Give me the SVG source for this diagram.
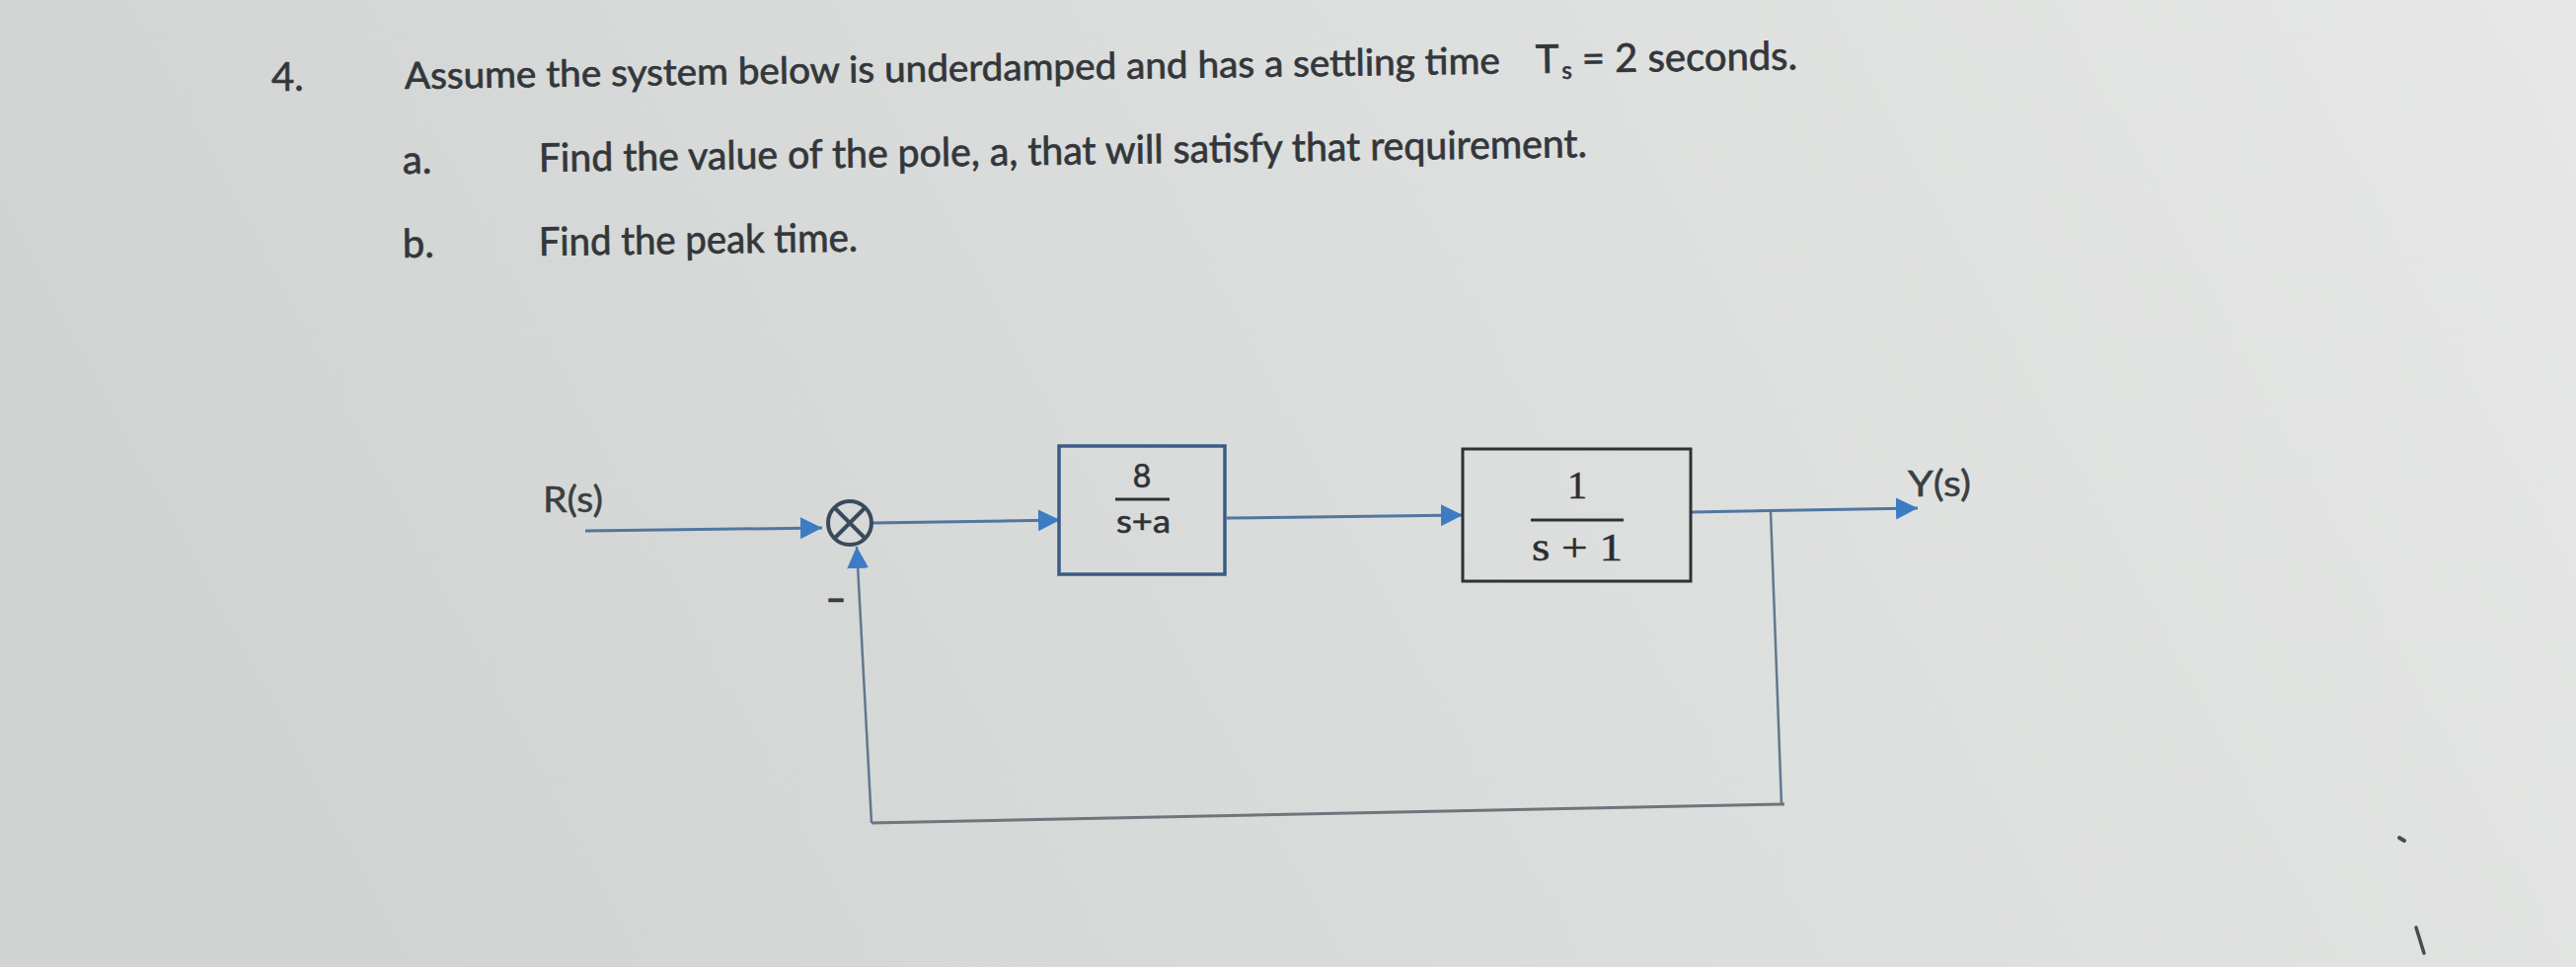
<svg xmlns="http://www.w3.org/2000/svg" width="2610" height="980" viewBox="0 0 2610 980">
  <style>
    .q { font-family: Lato, "Open Sans", "Liberation Sans", sans-serif; font-size: 40px; fill: #33373b; stroke: #33373b; stroke-width: 0.7px; }
    .lbl { font-family: Lato, "Open Sans", "Liberation Sans", sans-serif; font-size: 37px; fill: #3a3e43; stroke: #3a3e43; stroke-width: 0.5px; }
    .tf { font-family: Lato, "Open Sans", "Liberation Sans", sans-serif; font-size: 32px; fill: #2f3236; stroke: #2f3236; stroke-width: 0.6px; }
    .tm { font-family: "Liberation Serif", "DejaVu Serif", serif; font-size: 40px; fill: #2b2d30; stroke: #2b2d30; stroke-width: 0.5px; }
    .conn { fill: none; stroke: #52769f; stroke-width: 3; }
    .fb { fill: none; stroke: #60788f; stroke-width: 2.5; }
    .frac { stroke: #303235; stroke-width: 3; }
  </style>
  <defs>
    <linearGradient id="bg" x1="0" y1="0.2" x2="1" y2="0">
      <stop offset="0" stop-color="#d1d4d2"/>
      <stop offset="0.5" stop-color="#dbdedc"/>
      <stop offset="1" stop-color="#e6e7e6"/>
    </linearGradient>
    <marker id="arr" markerUnits="userSpaceOnUse" markerWidth="24" markerHeight="24" refX="22" refY="11" orient="auto" viewBox="0 0 24 24">
      <path d="M0,0 L22,11 L0,22 Z" fill="#3d7cc4"/>
    </marker>
  </defs>

  <rect x="0" y="0" width="2610" height="980" fill="url(#bg)"/>

  <g id="question">
    <text class="q" x="275" y="92">4.</text>
    <g transform="rotate(-0.8 410 90)">
      <text class="q" x="410" y="90" style="font-size:37.5px" textLength="1110" lengthAdjust="spacingAndGlyphs">Assume the system below is underdamped and has a settling time</text>
      <text class="q" x="1556" y="90">T<tspan dx="3" dy="6" style="font-size:24px">s</tspan><tspan dx="10" dy="-6">= 2 seconds.</tspan></text>
    </g>
    <g transform="rotate(-0.8 408 176)">
      <text class="q" x="408" y="176">a.</text>
      <text class="q" x="546" y="176" textLength="1062" lengthAdjust="spacingAndGlyphs">Find the value of the pole, a, that will satisfy that requirement.</text>
    </g>
    <g transform="rotate(-0.8 408 261)">
      <text class="q" x="408" y="261">b.</text>
      <text class="q" x="546" y="261" textLength="323" lengthAdjust="spacingAndGlyphs">Find the peak time.</text>
    </g>
  </g>

  <g id="connectors">
    <path class="conn" d="M593,538 L833,535" marker-end="url(#arr)"/>
    <path class="conn" d="M883,530 L1074,527" marker-end="url(#arr)"/>
    <path class="conn" d="M1243,525 L1482,522" marker-end="url(#arr)"/>
    <path class="conn" d="M1713,519 L1943,515" marker-end="url(#arr)"/>
    <path class="fb" d="M1794,518 L1805,815"/>
    <path d="M1808,815 L883,834" fill="none" stroke="#6f757c" stroke-width="3"/>
    <path class="fb" d="M883,834 L868,554" marker-end="url(#arr)"/>
  </g>

  <g id="input-R">
    <text class="lbl" x="550" y="519" textLength="61" lengthAdjust="spacingAndGlyphs">R(s)</text>
  </g>

  <g id="sum">
    <circle cx="861" cy="530" r="22" fill="none" stroke="#3a4a5c" stroke-width="4"/>
    <path d="M845.5,514.5 L876.5,545.5 M876.5,514.5 L845.5,545.5" stroke="#3a4a5c" stroke-width="4"/>
    <text class="lbl" x="847" y="619" text-anchor="middle" style="font-weight:bold">–</text>
  </g>

  <g id="block-G1">
    <rect x="1073" y="452" width="168" height="130" fill="none" stroke="#3b5b85" stroke-width="3.5"/>
    <text class="tf" x="1157" y="494" text-anchor="middle">8</text>
    <line class="frac" x1="1130" y1="506" x2="1185" y2="506"/>
    <text class="tf" x="1131" y="540" textLength="55" lengthAdjust="spacingAndGlyphs">s+a</text>
  </g>

  <g id="block-G2">
    <rect x="1482" y="455" width="231" height="134" fill="none" stroke="#2f3134" stroke-width="3"/>
    <text class="tm" x="1598" y="505" text-anchor="middle">1</text>
    <line class="frac" x1="1551" y1="527" x2="1645" y2="527"/>
    <text class="tm" x="1552" y="568" textLength="92" lengthAdjust="spacingAndGlyphs">s + 1</text>
  </g>

  <g id="output-Y">
    <text class="lbl" x="1933" y="503" textLength="64" lengthAdjust="spacingAndGlyphs">Y(s)</text>
  </g>

  <g id="marks">
    <path d="M2431,849 L2436,852" stroke="#4a4d50" stroke-width="4" stroke-linecap="round"/>
    <path d="M2448,940 L2456,966" stroke="#4a4d50" stroke-width="3.5" stroke-linecap="round"/>
  </g>
</svg>
